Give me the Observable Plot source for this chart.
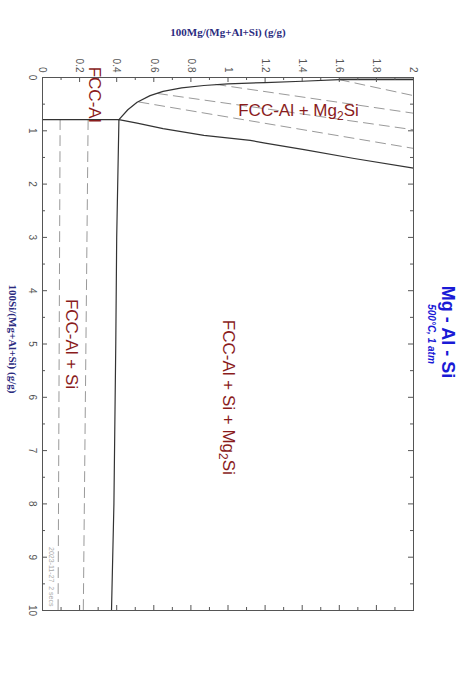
<!DOCTYPE html>
<html>
<head>
<meta charset="utf-8">
<script src="https://cdn.jsdelivr.net/npm/d3@7"></script>
<script src="https://cdn.jsdelivr.net/npm/@observablehq/plot@0.6"></script>
<style>
html, body { margin: 0; padding: 0; background: #fff; }
#chart svg { display: block; }
</style>
</head>
<body>
<div id="chart"></div>
<script>
// ---- axis ticks ----
const mgTicks = [0, 0.2, 0.4, 0.6, 0.8, 1, 1.2, 1.4, 1.6, 1.8, 2];
const mgTickLabels = ["0", "0.2", "0.4", "0.6", "0.8", "1", "1.2", "1.4", "1.6", "1.8", "2"];
const mgMinorTicks = [0.1, 0.3, 0.5, 0.7, 0.9, 1.1, 1.3, 1.5, 1.7, 1.9];
const siTicks = [0, 1, 2, 3, 4, 5, 6, 7, 8, 9, 10];
const siTickLabels = ["0", "1", "2", "3", "4", "5", "6", "7", "8", "9", "10"];
const siMinorTicks = [0.5, 1.5, 2.5, 3.5, 4.5, 5.5, 6.5, 7.5, 8.5, 9.5];

// ---- phase boundaries (Mg wt%, Si wt%) ----
const solvusMg = [0.412, 0.46, 0.51, 0.58, 0.65, 0.75, 0.87, 1.0, 1.2, 1.4, 1.6];
const solvusSi = [0.79, 0.605, 0.465, 0.34, 0.26, 0.195, 0.15, 0.12, 0.095, 0.07, 0.04];
const bandMg = [1.6, 2.0];
const bandSi = [0.04, 0.04];
const lowerMg = [0.412, 0.51, 0.65, 0.87, 1.12, 1.2, 1.41, 1.68, 2.0];
const lowerSi = [0.79, 0.856, 0.96, 1.086, 1.18, 1.23, 1.354, 1.52, 1.70];
const edgeMg = [0, 0.412];
const edgeSi = [0.79, 0.79];
const vertMg = [0.412, 0.40, 0.395, 0.385, 0.372];
const vertSi = [0.79, 3, 5, 8, 10];

// ---- dashed lines ----
const dash1Mg = [0.095, 0.084];
const dash1Si = [0.79, 10];
const dash2Mg = [0.246, 0.22];
const dash2Si = [0.79, 10];
const tie1Mg = [1.6, 2.0];
const tie1Si = [0.04, 0.34];
const tie2Mg = [0.935, 2.0];
const tie2Si = [0.13, 0.67];
const tie3Mg = [0.62, 2.0];
const tie3Si = [0.30, 0.98];
const tie4Mg = [0.52, 2.0];
const tie4Si = [0.46, 1.33];

// ---- phase labels ----
const phaseLabels = ["FCC-Al", "FCC-Al + Mg2Si", "FCC-Al + Si", "FCC-Al + Si + Mg2Si"];
const phaseMg = [0.28, 1.38, 0.155, 1.0];
const phaseSi = [0.32, 0.62, 5.0, 6.0];
const phaseRotate = [90, 0, 90, 90];

const titleText = "Mg - Al - Si";
const subtitleText = "500°C, 1 atm";
const xTitle = "100Mg/(Mg+Al+Si) (g/g)";
const yTitle = "100Si/(Mg+Al+Si) (g/g)";
const stampText = "2023-11-27  2 secs";

const W = 474, H = 676, mL = 42, mR = 61, mT = 77, mB = 66;
const PW = W - mL - mR, PH = H - mT - mB;

const pts = (xs, ys) => xs.map((x, i) => ({x, y: ys[i]}));
const solid = {x: "x", y: "y", stroke: "#333", strokeWidth: 1.2};
const dashed = {x: "x", y: "y", stroke: "#9a9a9a", strokeWidth: 1, strokeDasharray: "10,6"};
const tickColor = "#555";
const serif = "'Liberation Serif', 'Times New Roman', serif";

const chart = Plot.plot({
  width: W, height: H,
  marginLeft: mL, marginRight: mR, marginTop: mT, marginBottom: mB,
  x: {domain: [0, 2], axis: null},
  y: {domain: [0, 10], reverse: true, axis: null},
  style: {fontFamily: "'Liberation Sans', Arial, sans-serif", background: "#fff"},
  marks: [
    Plot.areaY(pts(bandMg, bandSi), {x: "x", y: "y", fill: "#a8a8a8"}),
    Plot.line(pts(dash1Mg, dash1Si), dashed),
    Plot.line(pts(dash2Mg, dash2Si), dashed),
    Plot.line(pts(tie1Mg, tie1Si), dashed),
    Plot.line(pts(tie2Mg, tie2Si), dashed),
    Plot.line(pts(tie3Mg, tie3Si), dashed),
    Plot.line(pts(tie4Mg, tie4Si), dashed),
    Plot.line(pts(solvusMg, solvusSi), solid),
    Plot.line(pts(bandMg, bandSi), solid),
    Plot.line(pts(lowerMg, lowerSi), solid),
    Plot.line(pts(edgeMg, edgeSi), solid),
    Plot.line(pts(vertMg, vertSi), solid),
    Plot.frame({stroke: tickColor, strokeWidth: 1}),
    // inward ticks on all four sides
    Plot.ruleX(mgTicks, {x: d => d, insetBottom: PH - 5, stroke: tickColor}),
    Plot.ruleX(mgMinorTicks, {x: d => d, insetBottom: PH - 3, stroke: tickColor}),
    Plot.ruleX(mgTicks, {x: d => d, insetTop: PH - 5, stroke: tickColor}),
    Plot.ruleX(mgMinorTicks, {x: d => d, insetTop: PH - 3, stroke: tickColor}),
    Plot.ruleY(siTicks, {y: d => d, insetRight: PW - 5, stroke: tickColor}),
    Plot.ruleY(siMinorTicks, {y: d => d, insetRight: PW - 3, stroke: tickColor}),
    Plot.ruleY(siTicks, {y: d => d, insetLeft: PW - 5, stroke: tickColor}),
    Plot.ruleY(siMinorTicks, {y: d => d, insetLeft: PW - 3, stroke: tickColor}),
    // tick labels
    Plot.text(mgTicks, {x: d => d, frameAnchor: "top", text: (d, i) => mgTickLabels[i], rotate: 90, textAnchor: "end", lineAnchor: "middle", dy: -5, fontSize: 10, fill: "#555"}),
    Plot.text(siTicks, {y: d => d, frameAnchor: "left", text: (d, i) => siTickLabels[i], rotate: 90, textAnchor: "middle", lineAnchor: "middle", dx: -10, fontSize: 10, fill: "#555"}),
    // axis titles
    Plot.text([xTitle], {frameAnchor: "top", dy: -45, textAnchor: "middle", lineAnchor: "middle", fontFamily: serif, fontWeight: "bold", fontSize: 11, fill: "#2b2b80"}),
    Plot.text([yTitle], {frameAnchor: "left", dx: -30, dy: -5, rotate: 90, textAnchor: "middle", lineAnchor: "middle", fontFamily: serif, fontWeight: "bold", fontSize: 11, fill: "#2b2b80"}),
    // chart title
    Plot.text([titleText], {frameAnchor: "right", dx: 34, dy: -12, rotate: 90, textAnchor: "middle", lineAnchor: "middle", fontWeight: "bold", fontSize: 18, fill: "#1a1ad6"}),
    Plot.text([subtitleText], {frameAnchor: "right", dx: 18, dy: -10, rotate: 90, textAnchor: "middle", lineAnchor: "middle", fontStyle: "italic", fontWeight: "bold", fontSize: 10, fill: "#1a1ad6"}),
    // phase labels
    Plot.text(phaseLabels, {x: (d, i) => phaseMg[i], y: (d, i) => phaseSi[i], rotate: (d, i) => phaseRotate[i], text: d => d, textAnchor: "middle", lineAnchor: "middle", fontSize: 17, fill: "#8a1c1c"}),
    // time stamp
    Plot.text([stampText], {x: () => 0.045, y: () => 10, rotate: 90, textAnchor: "end", lineAnchor: "middle", dy: -4, fontSize: 7, fill: "#aaa"})
  ]
});

// subscript the 2 in Mg2Si
const NS = "http://www.w3.org/2000/svg";
chart.querySelectorAll("text").forEach(t => {
  const s = t.textContent;
  if (!s.includes("Mg2Si") || t.children.length) return;
  const idx = s.indexOf("Mg2Si");
  const a = s.slice(0, idx + 2), b = s.slice(idx + 3);
  t.textContent = "";
  const t1 = document.createElementNS(NS, "tspan"); t1.textContent = a;
  const t2 = document.createElementNS(NS, "tspan"); t2.textContent = "2";
  t2.setAttribute("dy", "4"); t2.setAttribute("font-size", "12");
  const t3 = document.createElementNS(NS, "tspan"); t3.textContent = b;
  t3.setAttribute("dy", "-4");
  t.append(t1, t2, t3);
});

document.getElementById("chart").append(chart);
</script>
</body>
</html>
